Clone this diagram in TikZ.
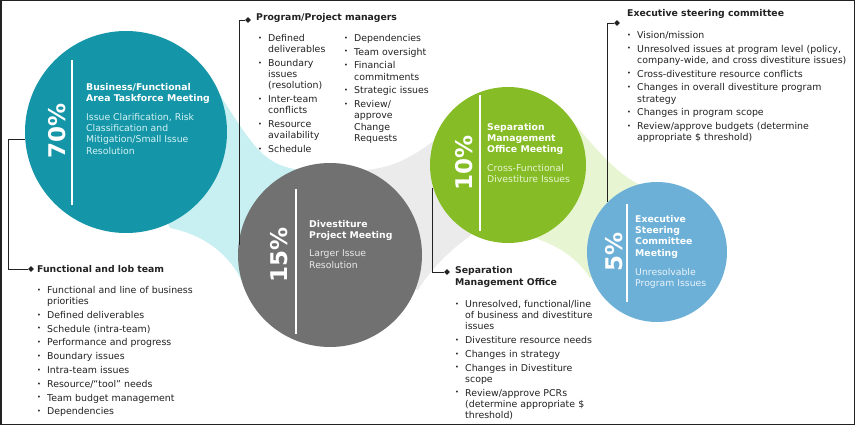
\documentclass[tikz,border=0pt]{standalone}
\usepackage{fontspec}
\setmainfont{DejaVu Sans}
\usetikzlibrary{shapes.geometric}
\definecolor{teal1}{HTML}{1596A8}
\definecolor{grey1}{HTML}{717171}
\definecolor{green1}{HTML}{86BC25}
\definecolor{blue1}{HTML}{6CB0D8}
\definecolor{cyanf}{HTML}{C8EFF1}
\definecolor{greyf}{HTML}{EBEBEB}
\definecolor{greenf}{HTML}{E8F5D2}
\definecolor{txt}{HTML}{222222}
\newcommand{\nl}{\hfil\break}
\newcommand{\bl}[1]{\par\hangindent=10pt\hangafter=1\noindent\makebox[10pt][l]{\raisebox{1.2pt}{\scalebox{0.7}{\textbullet}}}#1\par\vspace{2.6pt}}
\tikzset{
  circ/.style={circle,minimum size=#1,inner sep=0pt},
  vl/.style={white,line width=1.2pt},
  pct/.style={white,font=\fontsize{23}{23}\selectfont\bfseries,rotate=90},
  ctitle/.style={anchor=north west,white,align=left,inner sep=0pt,font=\fontsize{9.3}{11.3}\selectfont\bfseries},
  csub/.style={anchor=north west,align=left,inner sep=0pt,font=\fontsize{9.3}{11.3}\selectfont},
  cl/.style={txt,line width=0.9pt},
  dia/.style={diamond,fill=txt,inner sep=0pt,minimum size=6pt},
  htitle/.style={anchor=west,txt,align=left,inner sep=0pt,font=\fontsize{9.3}{11.3}\selectfont\bfseries},
  list/.style={anchor=north west,txt,inner sep=0pt,text width=#1,font=\fontsize{9.4}{11.2}\selectfont\raggedright},
}
\begin{document}
\begin{tikzpicture}[x=1pt,y=-1pt]
\useasboundingbox (0,0) rectangle (855,425);
\fill[white] (0,0) rectangle (855,425);
% connectors (funnels)
\fill[cyanf] (220,95) .. controls (255,150) and (265,165) .. (300,170) -- (330,255) -- (243,283) .. controls (230,255) and (205,235) .. (170,228) -- (126,132) -- cycle;
\fill[greyf] (365,170) .. controls (392,168) and (412,158) .. (440,136) -- (508,165) -- (470,236) .. controls (450,250) and (430,270) .. (418,290) -- (330,255) -- cycle;
\fill[greenf] (560,108) .. controls (590,140) and (610,170) .. (640,185) -- (657,252) -- (590,278) .. controls (575,255) and (555,245) .. (535,238) -- (508,165) -- cycle;
% circles
\node[circ=202pt,fill=teal1] (c1) at (126,132) {};
\node[circ=184pt,fill=grey1] (c2) at (330,255) {};
\node[circ=156pt,fill=green1] (c3) at (508,165) {};
\node[circ=140pt,fill=blue1] (c4) at (657,252) {};
% circle 1
\draw[vl] (72,60) -- (72,205);
\node[pct] (p1) at (57,131) {70\%};
\node[ctitle] (t1) at (86,83) {Business/Functional\\Area Taskforce Meeting};
\node[csub,text=cyanf!80!white] (s1) at (86,113) {Issue Clarification, Risk\\Classification and\\Mitigation/Small Issue\\Resolution};
% circle 2
\draw[vl] (296,189) -- (296,334);
\node[pct] (p2) at (279,255) {15\%};
\node[ctitle] (t2) at (309,220) {Divestiture\\Project Meeting};
\node[csub,text=white!85!grey1] (s2) at (309,250) {Larger Issue\\Resolution};
% circle 3
\draw[vl] (480,95) -- (480,231);
\node[pct] (p3) at (464,163) {10\%};
\node[ctitle] (t3) at (487,123) {Separation\\Management\\Office Meeting};
\node[csub,text=greenf] (s3) at (487,164) {Cross-Functional\\Divestiture Issues};
% circle 4
\draw[vl] (627,204) -- (627,302);
\node[pct] (p4) at (614,252) {5\%};
\node[ctitle] (t4) at (635,215) {Executive\\Steering\\Committee\\Meeting};
\node[csub,text=white!85!blue1] (s4) at (635,268) {Unresolvable\\Program Issues};
% callout: program/project managers
\coordinate (a1) at (239,245);
\node[dia] (d1) at (248,20) {};
\draw[cl] (a1) -- (239,20) -- (d1);
\node[htitle] (h1) at (256,18) {Program/Project managers};
\node[list=84pt] (l1a) at (258,30) {\bl{Defined\nl deliverables}\bl{Boundary\nl issues\nl (resolution)}\bl{Inter-team\nl conflicts}\bl{Resource\nl availability}\bl{Schedule}};
\node[list=95pt] (l1b) at (344,30) {\bl{Dependencies}\bl{Team oversight}\bl{Financial\nl commitments}\bl{Strategic issues}\bl{Review/\nl approve\nl Change\nl Requests}};
% callout: executive
\coordinate (a2) at (607,202);
\node[dia] (d2) at (617,23) {};
\draw[cl] (a2) -- (607,23) -- (d2);
\node[htitle] (h2) at (627,14) {Executive steering committee};
\node[list=228pt] (l2) at (627,27) {\bl{Vision/mission}\bl{Unresolved issues at program level (policy,\nl company-wide, and cross divestiture issues)}\bl{Cross-divestiture resource conflicts}\bl{Changes in overall divestiture program\nl strategy}\bl{Changes in program scope}\bl{Review/approve budgets (determine\nl appropriate \$ threshold)}};
% callout: SMO
\coordinate (a3) at (432,188);
\node[dia] (d3) at (447,272) {};
\draw[cl] (a3) -- (432,272) -- (d3);
\node[htitle] (h3) at (455,277) {Separation\\Management Office};
\node[list=150pt] (l3) at (455,296) {\bl{Unresolved, functional/line\nl of business and divestiture\nl issues}\bl{Divestiture resource needs}\bl{Changes in strategy}\bl{Changes in Divestiture\nl scope}\bl{Review/approve PCRs\nl (determine appropriate \$\nl threshold)}};
% callout: functional
\coordinate (a4) at (25,139);
\node[dia] (d4) at (31,269) {};
\draw[cl] (a4) -- (8,139) -- (8,269) -- (d4);
\node[htitle] (h4) at (37,269) {Functional and lob team};
\node[list=190pt] (l4) at (37,282) {\bl{Functional and line of business\nl priorities}\bl{Defined deliverables}\bl{Schedule (intra-team)}\bl{Performance and progress}\bl{Boundary issues}\bl{Intra-team issues}\bl{Resource/“tool” needs}\bl{Team budget management}\bl{Dependencies}};
\draw[txt,line width=1.5pt] (0.75,0.75) rectangle (854.25,424.25);
\end{tikzpicture}
\end{document}
